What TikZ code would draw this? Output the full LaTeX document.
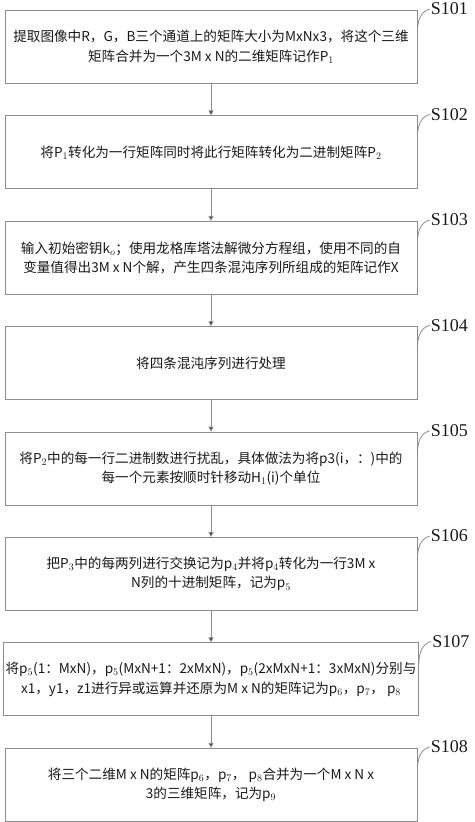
\documentclass[tikz,border=0pt]{standalone}
\usepackage{fontspec}
\setmainfont{Liberation Serif}
\newfontfamily\cjk{Noto Sans CJK SC}
\usetikzlibrary{
    arrows.meta,
    positioning,
    calc
}
\definecolor{boxgray}{RGB}{140,140,140}
\definecolor{txtgray}{RGB}{25,25,25}

\begin{document}
\begin{tikzpicture}[
    node distance=31.5pt,
    stepbox/.style={rectangle, minimum width=412pt, minimum height=73pt,
                    inner sep=2pt, align=center, draw=boxgray, line width=0.9pt,
                    text=txtgray, font=\cjk\fontsize{13.6pt}{19.5pt}\selectfont},
    steplabel/.style={font=\fontsize{18pt}{20pt}\selectfont, text=txtgray,
                      inner sep=1pt},
    leader/.style={draw=boxgray, line width=0.8pt},
    line/.style={draw=boxgray, line width=0.9pt,
                 -{Triangle[length=5pt,width=5pt,fill=txtgray]}}
]
    \useasboundingbox (0,0) rectangle (474pt,-822pt);

    % Steps
    \node (s101) [stepbox] at (211pt,-47pt)
        {提取图像中R，G，B三个通道上的矩阵大小为MxNx3，将这个三维\\矩阵合并为一个3M x N的二维矩阵记作P$_1$};
    \node (s102) [stepbox, below=of s101]
        {将P$_1$转化为一行矩阵同时将此行矩阵转化为二进制矩阵P$_2$};
    \node (s103) [stepbox, below=of s102]
        {输入初始密钥k$_o$；使用龙格库塔法解微分方程组，使用不同的自\\变量值得出3M x N个解，产生四条混沌序列所组成的矩阵记作X};
    \node (s104) [stepbox, below=of s103]
        {将四条混沌序列进行处理};
    \node (s105) [stepbox, below=of s104]
        {将P$_2$中的每一行二进制数进行扰乱，具体做法为将p3(i，：)中的\\每一个元素按顺时针移动H$_1$(i)个单位};
    \node (s106) [stepbox, below=of s105]
        {把P$_3$中的每两列进行交换记为p$_4$并将p$_4$转化为一行3M x\\N列的十进制矩阵，记为p$_5$};
    \node (s107) [stepbox, below=of s106]
        {将p$_5$(1：MxN)，p$_5$(MxN+1：2xMxN)，p$_5$(2xMxN+1：3xMxN)分别与\\x1，y1，z1进行异或运算并还原为M x N的矩阵记为p$_6$，p$_7$，\ p$_8$};
    \node (s108) [stepbox, below=of s107]
        {将三个二维M x N的矩阵p$_6$，p$_7$，\ p$_8$合并为一个M x N x\\3的三维矩阵，记为p$_9$};

    % Step labels with leaders
    \foreach \i in {1,...,8} {
        \node (l10\i) [steplabel] at ([xshift=32pt,yshift=1pt]s10\i.north east) {S10\i};
        \draw [leader] ([yshift=-22pt]s10\i.north east) to[out=90, in=195] (l10\i.west);
    }

    % Connections
    \draw [line] (s101) -- (s102);
    \draw [line] (s102) -- (s103);
    \draw [line] (s103) -- (s104);
    \draw [line] (s104) -- (s105);
    \draw [line] (s105) -- (s106);
    \draw [line] (s106) -- (s107);
    \draw [line] (s107) -- (s108);

\end{tikzpicture}
\end{document}
